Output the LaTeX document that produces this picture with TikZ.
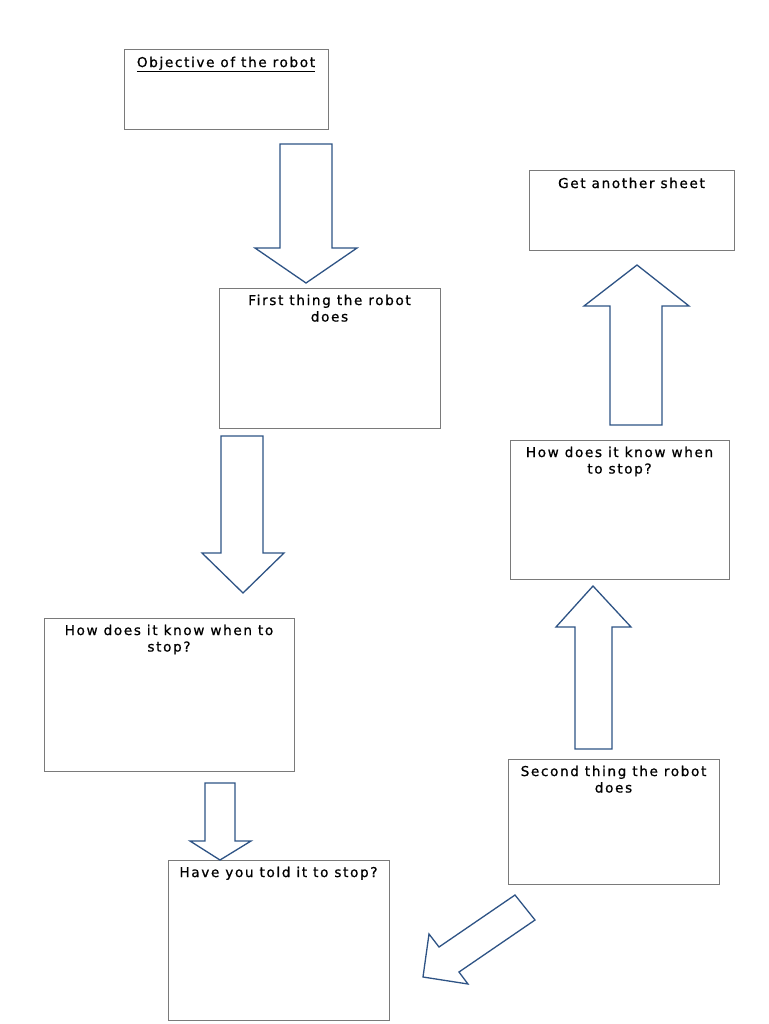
\documentclass[tikz,border=0pt]{standalone}
\usepackage{fontspec}
\setmainfont{DejaVu Sans}[LetterSpace=12,FakeBold=0.8]
\definecolor{arrowblue}{HTML}{2E5385}
\definecolor{boxgray}{HTML}{7A7A7A}
\begin{document}
\begin{tikzpicture}[x=1pt,y=-1pt,
  box/.style={draw=boxgray,line width=1pt,inner sep=0pt},
  boxtext/.style={anchor=north,inner sep=0pt,align=center,font=\fontsize{13.6}{16.5}\selectfont},
  blockarrow/.style={draw=arrowblue,line width=1.3pt,line join=miter,fill=white}]
\useasboundingbox (0,0) rectangle (768,1024);
\fill[white] (0,0) rectangle (768,1024);

% boxes
\node[box,minimum width=204,minimum height=80] (obj) at (226,90) {};
\node[boxtext] (objt) at ([yshift=-7]obj.north) {\underline{Objective of the robot}};

\node[box,minimum width=205,minimum height=79] (sheet) at (631.5,210.5) {};
\node[boxtext] (sheett) at ([yshift=-7]sheet.north) {Get another sheet};

\node[box,minimum width=221,minimum height=140] (first) at (329.5,358) {};
\node[boxtext] (firstt) at ([yshift=-7]first.north) {First thing the robot\\does};

\node[box,minimum width=219,minimum height=139] (knowr) at (619.5,509.5) {};
\node[boxtext] (knowrt) at ([yshift=-7]knowr.north) {How does it know when\\to stop?};

\node[box,minimum width=250,minimum height=153] (knowl) at (169,694.5) {};
\node[boxtext] (knowlt) at ([yshift=-7]knowl.north) {How does it know when to\\stop?};

\node[box,minimum width=211,minimum height=125] (second) at (613.5,821.5) {};
\node[boxtext] (secondt) at ([yshift=-7]second.north) {Second thing the robot\\does};

\node[box,minimum width=221,minimum height=160] (told) at (278.5,940) {};
\node[boxtext] (toldt) at ([yshift=-7]told.north) {Have you told it to stop?};

% block arrows
\draw[blockarrow] (280,144) -- (332,144) -- (332,248) -- (357,248) -- (306,283) -- (255,248) -- (280,248) -- cycle;
\draw[blockarrow] (221,436) -- (263,436) -- (263,553) -- (284,553) -- (243,593) -- (202,553) -- (221,553) -- cycle;
\draw[blockarrow] (205,783) -- (235,783) -- (235,841) -- (251,841) -- (220,860) -- (190,841) -- (205,841) -- cycle;
\draw[blockarrow] (575,749) -- (612,749) -- (612,627) -- (631,627) -- (593,586) -- (556,627) -- (575,627) -- cycle;
\draw[blockarrow] (610,425) -- (662,425) -- (662,306) -- (689,306) -- (637,265) -- (584,306) -- (610,306) -- cycle;
\draw[blockarrow] (515,895) -- (535,920) -- (459,972) -- (468,984) -- (423,977) -- (429,934) -- (439,947) -- cycle;
\end{tikzpicture}
\end{document}
